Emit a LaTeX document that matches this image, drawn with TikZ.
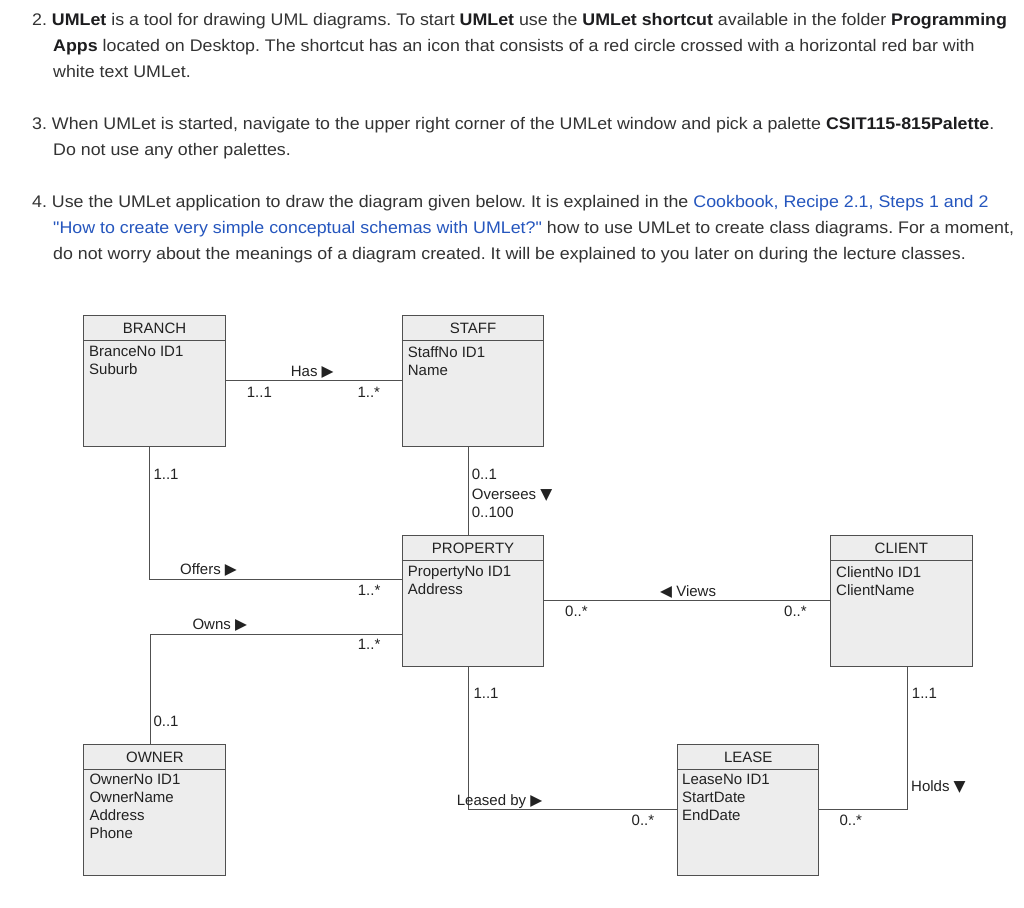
\documentclass[tikz,border=0pt]{standalone}
\usepackage{fontspec}
\setmainfont{Liberation Sans}
\newfontfamily\pfam[FakeStretch=1.06]{Liberation Sans}
\newfontfamily\symf{DejaVu Sans}
\definecolor{txt}{HTML}{333333}
\definecolor{boldtxt}{HTML}{1D1D1F}
\definecolor{lnk}{HTML}{2556BE}
\definecolor{boxfill}{HTML}{EDEDED}
\definecolor{edge}{HTML}{505050}
\definecolor{dtxt}{HTML}{222222}
\newcommand\bft[1]{\textbf{\color{boldtxt}#1}}
\newcommand\lk[1]{{\color{lnk}#1}}
\newcommand\rtri{{\symf\fontsize{15.5}{15}\selectfont ▶}}
\newcommand\ltri{{\symf\fontsize{15.5}{15}\selectfont ◀}}
\newcommand\dtri{{\symf\fontsize{15.5}{15}\selectfont ▼}}
\newcommand\pfont{\pfam\fontsize{16.8}{20}\selectfont\frenchspacing}
\newcommand\dfont{\fontsize{15}{18}\selectfont}
\begin{document}
\begin{tikzpicture}[x=1pt,y=1pt,
  para/.style={anchor=base west, inner sep=0pt, font=\pfont, text=txt},
  cls/.style={draw=edge, fill=boxfill, line width=1.1pt, inner sep=0pt, anchor=north west},
  hdr/.style={inner sep=0pt, font=\dfont, text=dtxt},
  attr/.style={anchor=north west, inner sep=0pt, font=\dfont, text=dtxt, align=left},
  lbl/.style={anchor=base west, inner sep=0pt, font=\dfont, text=dtxt},
  conn/.style={draw=edge, line width=1.1pt},
  sepl/.style={draw=edge, line width=1.1pt}]
\useasboundingbox (0,0) rectangle (1024,-907);
\fill[white] (0,0) rectangle (1024,-907);

% ---- instructions text ----
\node[para] (l1) at (32,-26) {2. \bft{UMLet} is a tool for drawing UML diagrams. To start \bft{UMLet} use the \bft{UMLet shortcut} available in the folder \bft{Programming}};
\node[para] (l2) at (53,-52) {\bft{Apps} located on Desktop. The shortcut has an icon that consists of a red circle crossed with a horizontal red bar with};
\node[para] (l3) at (53,-77.5) {white text UMLet.};
\node[para] (l4) at (32,-129.5) {3. When UMLet is started, navigate to the upper right corner of the UMLet window and pick a palette \bft{CSIT115-815Palette}.};
\node[para] (l5) at (53,-155.5) {Do not use any other palettes.};
\node[para] (l6) at (32,-207.5) {4. Use the UMLet application to draw the diagram given below. It is explained in the \lk{Cookbook, Recipe 2.1, Steps 1 and 2}};
\node[para] (l7) at (53,-233.5) {\lk{\char34 How to create very simple conceptual schemas with UMLet?\char34} how to use UMLet to create class diagrams. For a moment,};
\node[para] (l8) at (53,-259.5) {do not worry about the meanings of a diagram created. It will be explained to you later on during the lecture classes.};

% ---- class boxes ----
\node[cls, minimum width=142pt, minimum height=130.5pt] (branch) at (83,-315) {};
\node[cls, minimum width=141.6pt, minimum height=130.5pt] (staff) at (401.7,-315) {};
\node[cls, minimum width=141.6pt, minimum height=130.7pt] (property) at (401.7,-535) {};
\node[cls, minimum width=141.7pt, minimum height=130.7pt] (client) at (830,-535) {};
\node[cls, minimum width=142pt, minimum height=130.7pt] (owner) at (83.3,-744) {};
\node[cls, minimum width=141.3pt, minimum height=130.7pt] (lease) at (677,-744) {};

\foreach \b/\t in {branch/BRANCH, staff/STAFF, property/PROPERTY, client/CLIENT, owner/OWNER, lease/LEASE}{
  \draw[sepl] ([yshift=-25.5pt]\b.north west) -- ([yshift=-25.5pt]\b.north east);
  \node[hdr] (\b-title) at ([yshift=-13pt]\b.north) {\t};
}

\node[attr] (branch-attr) at ([shift={(6pt,-31pt)}]branch.north west) {BranceNo ID1\\Suburb};
\node[attr] (staff-attr) at ([shift={(6pt,-31pt)}]staff.north west) {StaffNo ID1\\Name};
\node[attr] (property-attr) at ([shift={(6pt,-31pt)}]property.north west) {PropertyNo ID1\\Address};
\node[attr] (client-attr) at ([shift={(6pt,-31pt)}]client.north west) {ClientNo ID1\\ClientName};
\node[attr] (owner-attr) at ([shift={(6pt,-30pt)}]owner.north west) {OwnerNo ID1\\OwnerName\\Address\\Phone};
\node[attr] (lease-attr) at ([shift={(5pt,-30pt)}]lease.north west) {LeaseNo ID1\\StartDate\\EndDate};

% ---- connectors ----
\draw[conn] (branch.east) -- (staff.west);
\draw[conn] ([xshift=-4.8pt]staff.south) -- ([xshift=-4.8pt]property.north);
\draw[conn] ([xshift=-4.8pt]branch.south) |- ([yshift=21.4pt]property.west);
\draw[conn] ([xshift=-4.8pt]owner.north) |- ([yshift=-33.6pt]property.west);
\draw[conn] (property.east) -- (client.west);
\draw[conn] ([xshift=-4.8pt]property.south) |- (lease.west);
\draw[conn] ([xshift=6.5pt]client.south) |- (lease.east);

% ---- labels ----
\node[lbl] (has) at (290.7,-376.5) {Has \rtri};
\node[lbl] (m1) at (246.7,-397.5) {1..1};
\node[lbl] (m2) at (357.3,-397.5) {1..*};
\node[lbl] (m3) at (153.3,-479.7) {1..1};
\node[lbl] (m4) at (471.7,-479.7) {0..1};
\node[lbl] (oversees) at (471.7,-499.7) {Oversees \dtri};
\node[lbl] (m5) at (471.7,-517) {0..100};
\node[lbl] (offers) at (180,-574.5) {Offers \rtri};
\node[lbl] (m6) at (357.7,-595.5) {1..*};
\node[lbl] (owns) at (192.3,-629.5) {Owns \rtri};
\node[lbl] (m7) at (357.7,-649.5) {1..*};
\node[lbl] (views) at (660,-596.5) {\ltri\ Views};
\node[lbl] (m8) at (565,-616.5) {0..*};
\node[lbl] (m9) at (784,-616.5) {0..*};
\node[lbl] (m10) at (153.3,-726) {0..1};
\node[lbl] (m11) at (473.3,-698.7) {1..1};
\node[lbl] (m12) at (911.7,-698.7) {1..1};
\node[lbl] (leased) at (456.7,-805.4) {Leased by \rtri};
\node[lbl] (m13) at (631.5,-825) {0..*};
\node[lbl] (holds) at (911,-791) {Holds \dtri};
\node[lbl] (m14) at (839.3,-825.4) {0..*};
\end{tikzpicture}
\end{document}
